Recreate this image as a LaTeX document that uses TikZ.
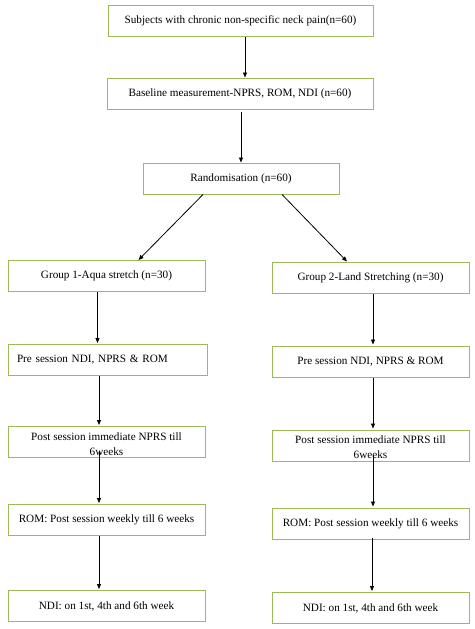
\documentclass[tikz,border=0pt]{standalone}
\usepackage{fontspec}
\setmainfont{Liberation Serif}
\usetikzlibrary{arrows.meta,positioning}
\definecolor{boxgreen}{HTML}{9BBB59}

\begin{document}
\begin{tikzpicture}[x=1pt,y=-1pt,
  stepbox/.style={draw=boxgreen,line width=1pt,minimum width=#1,minimum height=31pt,
    font=\fontsize{11.2}{13}\selectfont,inner sep=2pt},
  stepbox/.default=197pt,
  flow/.style={-{Triangle[length=5pt,width=4pt]},line width=0.8pt},
]
  \useasboundingbox[fill=white] (0,0) rectangle (474,629);
  % common trunk
  \node[stepbox=265pt] (subj) at (240.5,21) {Subjects with chronic non-specific neck pain(n=60)};
  \node[stepbox=266pt] (base) at (240,93.5) {Baseline measurement-NPRS, ROM, NDI (n=60)};
  \node[stepbox=196pt] (rand) at (241,178.5) {Randomisation (n=60)};
  % left arm
  \node[stepbox] (g1) at (106.5,276) {Group 1-Aqua stretch (n=30)};
  \node[stepbox=199pt,text width=181pt,align=left,inner xsep=9pt] (pre1) at (107.5,360) {Pre session NDI, NPRS \& ROM};
  \node[stepbox] (post1) at (106.5,442) {};
  \node[stepbox] (rom1) at (106.5,520) {ROM: Post session weekly till 6 weeks};
  \node[stepbox] (ndi1) at (106.5,606) {NDI: on 1st, 4th and 6th week};
  % right arm
  \node[stepbox] (g2) at (370.5,277.5) {Group 2-Land Stretching (n=30)};
  \node[stepbox] (pre2) at (370.5,361.5) {Pre session NDI, NPRS \& ROM};
  \node[stepbox] (post2) at (370.5,445.5) {};
  \node[stepbox] (rom2) at (370.5,523.5) {ROM: Post session weekly till 6 weeks};
  \node[stepbox] (ndi2) at (370.5,608) {NDI: on 1st, 4th and 6th week};
  % overflowing text in the post session boxes
  \begin{scope}
    \clip (post1.north west) rectangle ([yshift=3pt]post1.south east);
    \node[anchor=north,yshift=-6.5pt,inner sep=0pt,align=center,font=\fontsize{11.2}{15}\selectfont] (post1txt) at (post1.north) {Post session immediate NPRS till\\6weeks};
  \end{scope}
  \begin{scope}
    \clip (post2.north west) rectangle ([yshift=3pt]post2.south east);
    \node[anchor=north,yshift=-6.5pt,inner sep=0pt,align=center,font=\fontsize{11.2}{15}\selectfont] (post2txt) at (post2.north) {Post session immediate NPRS till\\6weeks};
  \end{scope}
  % arrows
  \draw[flow] ([xshift=4.5pt]subj.south) -- ([xshift=5pt]base.north);
  \draw[flow] ([xshift=1pt,yshift=-2pt]base.south) -- (rand.north);
  \draw[flow] ([xshift=-38pt]rand.south) -- ([xshift=32pt]g1.north);
  \draw[flow] ([xshift=41pt]rand.south) -- ([xshift=-23.5pt]g2.north);
  \draw[flow] ([xshift=-9pt]g1.south) -- ([xshift=-10pt,yshift=1pt]pre1.north);
  \draw[flow] ([xshift=-8.5pt]pre1.south) -- ([xshift=-7.5pt,yshift=1pt]post1.north);
  \draw[flow] ([xshift=-7.5pt,yshift=7pt]post1.south) -- ([xshift=-7.5pt,yshift=1pt]rom1.north);
  \draw[flow] ([xshift=-7.5pt]rom1.south) -- ([xshift=-7.5pt,yshift=1pt]ndi1.north);
  \draw[flow] ([xshift=2.5pt]g2.south) -- ([xshift=2.5pt,yshift=1pt]pre2.north);
  \draw[flow] ([xshift=2.5pt]pre2.south) -- ([xshift=2.5pt,yshift=1pt]post2.north);
  \draw[flow] ([xshift=2.5pt,yshift=7pt]post2.south) -- ([xshift=2.5pt,yshift=1pt]rom2.north);
  \draw[flow] ([xshift=1.5pt,yshift=2pt]rom2.south) -- ([xshift=1.5pt,yshift=1pt]ndi2.north);
\end{tikzpicture}
\end{document}
